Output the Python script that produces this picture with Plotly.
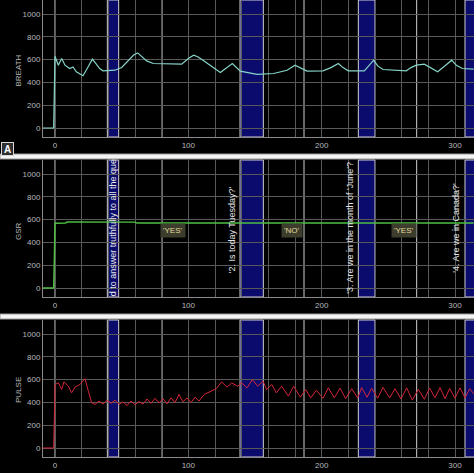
import plotly.graph_objects as go

# ---------------- data ----------------
breath_x = [-9, -1, 0, 2.5, 5, 7.5, 11, 13.5, 16, 21, 25, 28, 31, 33.5, 36, 45, 50, 55, 59, 62, 65, 68.75, 73.75,
            91, 95, 100, 104, 107, 111, 124, 133, 139, 151.5, 164, 170, 174, 180, 185, 189, 201, 207,
            212.5, 216, 220, 232, 239, 242, 246, 263.5, 267, 271, 277, 282, 287, 293, 297.5, 301,
            305.5, 314]
breath_y = [0, 0, 630, 551, 609, 551, 522, 536, 493, 458, 540, 604, 560, 522, 502, 507, 531, 595, 640, 659, 630, 589, 566,
            566, 560, 610, 639, 625, 595, 487, 566, 499, 470, 478, 492, 507, 551, 520, 499, 502, 530,
            566, 530, 502, 502, 595, 545, 513, 502, 530, 551, 560, 530, 493, 550, 595, 550,
            522, 516]

gsr_x = [-9, -1, -0.5, 0, 8, 9, 60, 61.5, 314]
gsr_y = [0, 0, 260, 568, 570, 580, 578, 570, 570]

pulse_x = [-9, -1, -0.5, 0, 2.5, 5, 6.75, 10, 12.5, 15, 18.75, 22.5, 25, 27.5, 30,
           33, 36, 39, 42, 45, 48, 51, 54, 57, 60, 63, 66, 69, 72, 75, 78, 81, 84, 87, 90,
           93, 96, 99, 102, 105, 108, 112, 117, 121, 125, 129, 132.5, 137, 140, 144, 148,
           152, 156, 158.75, 162.5, 166, 170, 175, 179, 184, 188, 191.8, 196, 201, 205,
           209.5, 213.75, 218, 222.5, 227, 230, 234, 237.5, 242, 246, 251, 255, 259.5,
           263.75, 268, 272.5, 277, 281, 285, 288.75, 292.5, 296, 300, 303.75, 307.5, 311, 314]
pulse_y = [0, 0, 260, 557, 572, 513, 580, 542, 484, 534, 557, 609, 499, 397, 382,
           412, 386, 418, 392, 420, 384, 404, 372, 412, 380, 408, 384, 430, 392, 436, 396, 432, 388, 440, 398,
           470, 405, 440, 398, 446, 412, 470, 498, 522, 580, 534, 571, 542, 571, 528, 600,
           542, 586, 513, 557, 484, 542, 455, 542, 446, 513, 440, 507, 436, 528,
           440, 525, 432, 520, 438, 530, 445, 525, 436, 532, 440, 520, 430,
           528, 420, 515, 428, 525, 440, 530, 432, 522, 436, 528, 440, 520, 476]

band_starts = [39.25, 138.75, 227.5, 307.5]
band_ends = [47.75, 156.25, 240, 330]
event_lines = [0, 80.25, 186.75, 271.25]

questions = ["d to answer truthfully to all the que",
             "'2. Is today Tuesday?'",
             "'3. Are we in the month of 'June'?",
             "'4. Are we in Canada?'"]
question_x = [43.5, 132.5, 221, 300.5]
question_y = [525, 512, 525, 525]

answers = ["'YES'", "'NO'", "'YES'"]
answer_x = [88.5, 178, 262]
answer_y = [503, 503, 503]

panel_names = ["BREATH", "GSR", "PULSE"]
x_ticks = [0, 100, 200, 300]

# ---------------- layout constants ----------------
W, H = 474, 473
ML = 43
PW = W - ML
panels_px = [(0, 137), (160, 297), (320, 457)]
title_py = [70.5, 231, 390]
sep_px = [(154, 159), (314, 319)]

def py2paper(py):
    return 1 - py / H

def px2paper(px):
    return (px - ML) / PW

GRID = "#595959"
EVENT = "#cfcfcf"
BAND = "#0b0b6e"
TXT = "#b8b8b8"
FONT = "Liberation Sans, Arial, sans-serif"

fig = go.Figure()

colors = ["#86d4c8", "#4cc040", "#d42638"]
series = [(breath_x, breath_y), (gsr_x, gsr_y), (pulse_x, pulse_y)]
widths = [1.2, 1.4, 1.0]

for i, ((xs, ys), c, w) in enumerate(zip(series, colors, widths), start=1):
    fig.add_trace(go.Scatter(x=xs, y=ys, mode="lines", line=dict(color=c, width=w),
                             xaxis=f"x{i}" if i > 1 else "x", yaxis=f"y{i}" if i > 1 else "y",
                             showlegend=False, hoverinfo="skip"))

layout = dict(width=W, height=H, margin=dict(l=ML, r=0, t=0, b=0),
              paper_bgcolor="black", plot_bgcolor="black", showlegend=False,
              font=dict(family=FONT, size=8, color=TXT))

shapes = []
annotations = []
for i, (top, bot) in enumerate(panels_px, start=1):
    sfx = "" if i == 1 else str(i)
    layout[f"xaxis{sfx}"] = dict(domain=[0, 1], anchor=f"y{sfx}", range=[-9, 314.25],
                                tickmode="array", tickvals=x_ticks, ticks="",
                                showgrid=True, gridcolor=GRID, gridwidth=1,
                                minor=dict(tickmode="linear", tick0=0, dtick=20, showgrid=True,
                                           gridcolor=GRID, gridwidth=1, ticks=""),
                                zeroline=False, showline=True, linecolor="#8a8a8a", linewidth=1,
                                tickfont=dict(size=8, color=TXT, family=FONT), fixedrange=True)
    layout[f"yaxis{sfx}"] = dict(domain=[py2paper(bot), py2paper(top)], anchor=f"x{sfx}",
                                range=[-79, 1123], tick0=0, dtick=200, ticks="",
                                showgrid=True, gridcolor=GRID, gridwidth=1, zeroline=False,
                                showline=True, linecolor="#8a8a8a", linewidth=1,
                                tickfont=dict(size=8, color=TXT, family=FONT), fixedrange=True)
    xr = f"x{sfx}"
    yr = f"y{sfx} domain"
    for b0, b1 in zip(band_starts, band_ends):
        shapes.append(dict(type="rect", xref=xr, yref=yr, x0=b0, x1=b1, y0=0, y1=1,
                           fillcolor=BAND, line=dict(color=EVENT, width=1), layer="below"))
    for ev in event_lines:
        shapes.append(dict(type="line", xref=xr, yref=yr, x0=ev, x1=ev, y0=0, y1=1,
                           line=dict(color=EVENT, width=1), layer="below"))
    annotations.append(dict(text=panel_names[i - 1], xref="paper", yref="paper",
                            x=px2paper(18), y=py2paper(title_py[i - 1]), textangle=-90,
                            showarrow=False, font=dict(size=8, color=TXT, family=FONT),
                            xanchor="center", yanchor="middle"))

for q, qx, qy in zip(questions, question_x, question_y):
    annotations.append(dict(text=q, xref="x2", yref="y2", x=qx, y=qy, textangle=-90,
                            showarrow=False, font=dict(size=9, color="#e6e6e6", family=FONT),
                            xanchor="center", yanchor="middle"))
for a, ax_, ay in zip(answers, answer_x, answer_y):
    annotations.append(dict(text=a, xref="x2", yref="y2", x=ax_, y=ay, showarrow=False,
                            font=dict(size=8, color="#e4dc9a", family=FONT),
                            bgcolor="#3d3d2e", borderpad=2, xanchor="center", yanchor="middle"))

# "A" box
annotations.append(dict(text="<b>A</b>", xref="paper", yref="paper", x=px2paper(7), y=py2paper(148.5),
                        showarrow=False, font=dict(size=10, color="white", family=FONT),
                        bgcolor="#303030", bordercolor="#d8d8d8", borderwidth=1, borderpad=1,
                        width=9, height=10, xanchor="center", yanchor="middle"))

for s0, s1 in sep_px:
    shapes.append(dict(type="rect", xref="paper", yref="paper", x0=px2paper(0), x1=1.01,
                       y0=py2paper(s1), y1=py2paper(s0), fillcolor="#f4f4f4",
                       line=dict(color="#9a9a9a", width=1), layer="above"))

layout["shapes"] = shapes
layout["annotations"] = annotations
fig.update_layout(**layout)
fig.write_html("out.html")
